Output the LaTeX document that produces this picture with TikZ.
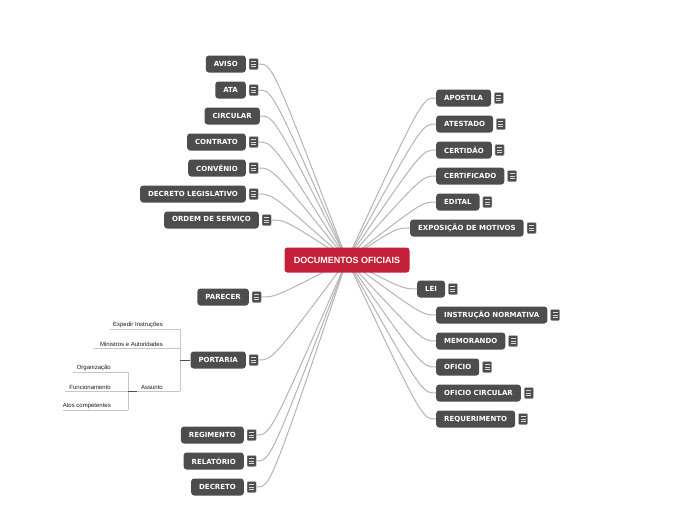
\documentclass[tikz,border=0pt]{standalone}
\usepackage{fontspec}
\newfontfamily\topicfont{DejaVu Sans}
\newfontfamily\rootfont{Liberation Sans}
\usetikzlibrary{calc, positioning, backgrounds}

\definecolor{boxgray}{HTML}{4D4D4D}
\definecolor{rootred}{HTML}{C4203A}
\definecolor{linkgray}{HTML}{B4B4B4}

\tikzset{
    root/.style = {fill = rootred, text = white, rounded corners = 3pt, minimum width = 125pt, minimum height = 25pt, inner sep = 0pt, font = \rootfont\bfseries\fontsize{9}{10}\selectfont},
    topic/.style = {fill = boxgray, text = white, rounded corners = 3pt, minimum height = 17pt, inner xsep = 8pt, inner ysep = 0pt, font = \topicfont\bfseries\fontsize{7}{8}\selectfont},
    notebtn/.style = {fill = boxgray, draw = gray!70, line width = 0.4pt, rounded corners = 1pt, minimum width = 9pt, minimum height = 11pt, inner sep = 0pt,
        path picture = {
            \foreach \k in {-2.5, 0, 2.5} {
                \draw[white!85!black, line width = 0.7pt] ($(path picture bounding box.center) + (-2.5, \k)$) -- ++(5, 0);
            }
        }},
    leaf/.style = {inner sep = 1pt, anchor = south east, text = black!90, font = \rootfont\fontsize{6}{7}\selectfont},
    link/.style = {draw = linkgray, line width = 1pt},
    sublink/.style = {draw = gray!45, line width = 0.8pt},
    stub/.style = {draw = boxgray, line width = 1pt},
}

\begin{document}
\begin{tikzpicture}[x = 1pt, y = -1pt]
    \useasboundingbox (+0, +0) rectangle (+697, +520);

    % Root
    \node[root] (doc) at (+347, +260) {DOCUMENTOS OFICIAIS};

    % Left, top
    \node[topic, anchor = east] (aviso) at (+246, +64) {AVISO};
    \node[notebtn, right = 3pt of aviso] (aviso-n) {};
    %
    \node[topic, anchor = east] (ata) at (+246, +90) {ATA};
    \node[notebtn, right = 3pt of ata] (ata-n) {};
    %
    \node[topic, anchor = east] (circular) at (+260, +116) {CIRCULAR};
    %
    \node[topic, anchor = east] (contrato) at (+246, +142) {CONTRATO};
    \node[notebtn, right = 3pt of contrato] (contrato-n) {};
    %
    \node[topic, anchor = east] (convenio) at (+246, +168) {CONVÊNIO};
    \node[notebtn, right = 3pt of convenio] (convenio-n) {};
    %
    \node[topic, anchor = east] (decleg) at (+246, +194) {DECRETO LEGISLATIVO};
    \node[notebtn, right = 3pt of decleg] (decleg-n) {};
    %
    \node[topic, anchor = east] (ordem) at (+259, +220) {ORDEM DE SERVIÇO};
    \node[notebtn, right = 3pt of ordem] (ordem-n) {};

    % Left, bottom
    \node[topic, anchor = east] (parecer) at (+249, +297) {PARECER};
    \node[notebtn, right = 3pt of parecer] (parecer-n) {};
    %
    \node[topic, anchor = east] (portaria) at (+246, +360) {PORTARIA};
    \node[notebtn, right = 3pt of portaria] (portaria-n) {};
    %
    \node[topic, anchor = east] (regimento) at (+244, +435) {REGIMENTO};
    \node[notebtn, right = 3pt of regimento] (regimento-n) {};
    %
    \node[topic, anchor = east] (relatorio) at (+244, +461) {RELATÓRIO};
    \node[notebtn, right = 3pt of relatorio] (relatorio-n) {};
    %
    \node[topic, anchor = east] (decreto) at (+244, +487) {DECRETO};
    \node[notebtn, right = 3pt of decreto] (decreto-n) {};

    % Right
    \node[topic, anchor = west] (apostila) at (+436, +98) {APOSTILA};
    \node[notebtn, right = 3pt of apostila] (apostila-n) {};
    %
    \node[topic, anchor = west] (atestado) at (+436, +124) {ATESTADO};
    \node[notebtn, right = 3pt of atestado] (atestado-n) {};
    %
    \node[topic, anchor = west] (certidao) at (+436, +150) {CERTIDÃO};
    \node[notebtn, right = 3pt of certidao] (certidao-n) {};
    %
    \node[topic, anchor = west] (certificado) at (+436, +176) {CERTIFICADO};
    \node[notebtn, right = 3pt of certificado] (certificado-n) {};
    %
    \node[topic, anchor = west] (edital) at (+436, +202) {EDITAL};
    \node[notebtn, right = 3pt of edital] (edital-n) {};
    %
    \node[topic, anchor = west] (exposicao) at (+410, +228) {EXPOSIÇÃO DE MOTIVOS};
    \node[notebtn, right = 3pt of exposicao] (exposicao-n) {};
    %
    \node[topic, anchor = west] (lei) at (+417, +289) {LEI};
    \node[notebtn, right = 3pt of lei] (lei-n) {};
    %
    \node[topic, anchor = west] (instrucao) at (+436, +315) {INSTRUÇÃO NORMATIVA};
    \node[notebtn, right = 3pt of instrucao] (instrucao-n) {};
    %
    \node[topic, anchor = west] (memorando) at (+436, +341) {MEMORANDO};
    \node[notebtn, right = 3pt of memorando] (memorando-n) {};
    %
    \node[topic, anchor = west] (oficio) at (+436, +367) {OFICIO};
    \node[notebtn, right = 3pt of oficio] (oficio-n) {};
    %
    \node[topic, anchor = west] (oficirc) at (+436, +393) {OFICIO CIRCULAR};
    \node[notebtn, right = 3pt of oficirc] (oficirc-n) {};
    %
    \node[topic, anchor = west] (requerimento) at (+436, +419) {REQUERIMENTO};
    \node[notebtn, right = 3pt of requerimento] (requerimento-n) {};

    % Links from the root
    \begin{scope}[on background layer]
        \fill[white] (+0, +0) rectangle (+697, +520);
        %
        \draw[link] (doc.center) .. controls ($(aviso-n.east) + (14, 0)$) .. (aviso-n.east);
        \draw[link] (doc.center) .. controls ($(ata-n.east) + (14, 0)$) .. (ata-n.east);
        \draw[link] (doc.center) .. controls ($(circular.east) + (14, 0)$) .. (circular.east);
        \draw[link] (doc.center) .. controls ($(contrato-n.east) + (14, 0)$) .. (contrato-n.east);
        \draw[link] (doc.center) .. controls ($(convenio-n.east) + (14, 0)$) .. (convenio-n.east);
        \draw[link] (doc.center) .. controls ($(decleg-n.east) + (14, 0)$) .. (decleg-n.east);
        \draw[link] (doc.center) .. controls ($(ordem-n.east) + (14, 0)$) .. (ordem-n.east);
        %
        \draw[link] (doc.center) .. controls ($(parecer-n.east) + (14, 0)$) .. (parecer-n.east);
        \draw[link] (doc.center) .. controls ($(portaria-n.east) + (14, 0)$) .. (portaria-n.east);
        \draw[link] (doc.center) .. controls ($(regimento-n.east) + (14, 0)$) .. (regimento-n.east);
        \draw[link] (doc.center) .. controls ($(relatorio-n.east) + (14, 0)$) .. (relatorio-n.east);
        \draw[link] (doc.center) .. controls ($(decreto-n.east) + (14, 0)$) .. (decreto-n.east);
        %
        \draw[link] (doc.center) .. controls ($(apostila.west) + (-14, 0)$) .. (apostila.west);
        \draw[link] (doc.center) .. controls ($(atestado.west) + (-14, 0)$) .. (atestado.west);
        \draw[link] (doc.center) .. controls ($(certidao.west) + (-14, 0)$) .. (certidao.west);
        \draw[link] (doc.center) .. controls ($(certificado.west) + (-14, 0)$) .. (certificado.west);
        \draw[link] (doc.center) .. controls ($(edital.west) + (-14, 0)$) .. (edital.west);
        \draw[link] (doc.center) .. controls ($(exposicao.west) + (-14, 0)$) .. (exposicao.west);
        \draw[link] (doc.center) .. controls ($(lei.west) + (-14, 0)$) .. (lei.west);
        \draw[link] (doc.center) .. controls ($(instrucao.west) + (-14, 0)$) .. (instrucao.west);
        \draw[link] (doc.center) .. controls ($(memorando.west) + (-14, 0)$) .. (memorando.west);
        \draw[link] (doc.center) .. controls ($(oficio.west) + (-14, 0)$) .. (oficio.west);
        \draw[link] (doc.center) .. controls ($(oficirc.west) + (-14, 0)$) .. (oficirc.west);
        \draw[link] (doc.center) .. controls ($(requerimento.west) + (-14, 0)$) .. (requerimento.west);
    \end{scope}

    % Portaria subtopics
    \coordinate (portaria-j) at (+180, +360);
    \coordinate (expedir-e) at (+110, +329);
    \coordinate (ministros-e) at (+94, +348);
    \coordinate (assunto-j) at (+128, +391);
    \coordinate (organizacao-e) at (+73, +372);
    \coordinate (funcionamento-e) at (+65, +391);
    \coordinate (atos-e) at (+63, +410);
    %
    \node[leaf] (expedir) at (+164, +329) {Expedir Instruções};
    \node[leaf] (ministros) at (+164, +348) {Ministros e Autoridades};
    \node[leaf] (assunto) at (+164, +391) {Assunto};
    \node[leaf] (organizacao) at (+112, +372) {Organização};
    \node[leaf] (funcionamento) at (+112, +391) {Funcionamento};
    \node[leaf] (atos) at (+112, +410) {Atos competentes};
    %
    \draw[sublink] (portaria-j |- expedir-e) -- (portaria-j |- assunto-j);
    \draw[sublink] (portaria-j |- expedir-e) -- (expedir-e);
    \draw[sublink] (portaria-j |- ministros-e) -- (ministros-e);
    \draw[sublink] (portaria-j |- assunto-j) -- (assunto-j);
    \draw[stub] (portaria.west) -- (portaria-j);
    %
    \draw[sublink] (assunto-j |- organizacao-e) -- (assunto-j |- atos-e);
    \draw[sublink] (assunto-j |- organizacao-e) -- (organizacao-e);
    \draw[sublink] (assunto-j) -- (funcionamento-e);
    \draw[sublink] (assunto-j |- atos-e) -- (atos-e);
    \draw[stub] (assunto-j) -- ++(9, 0);
\end{tikzpicture}
\end{document}
